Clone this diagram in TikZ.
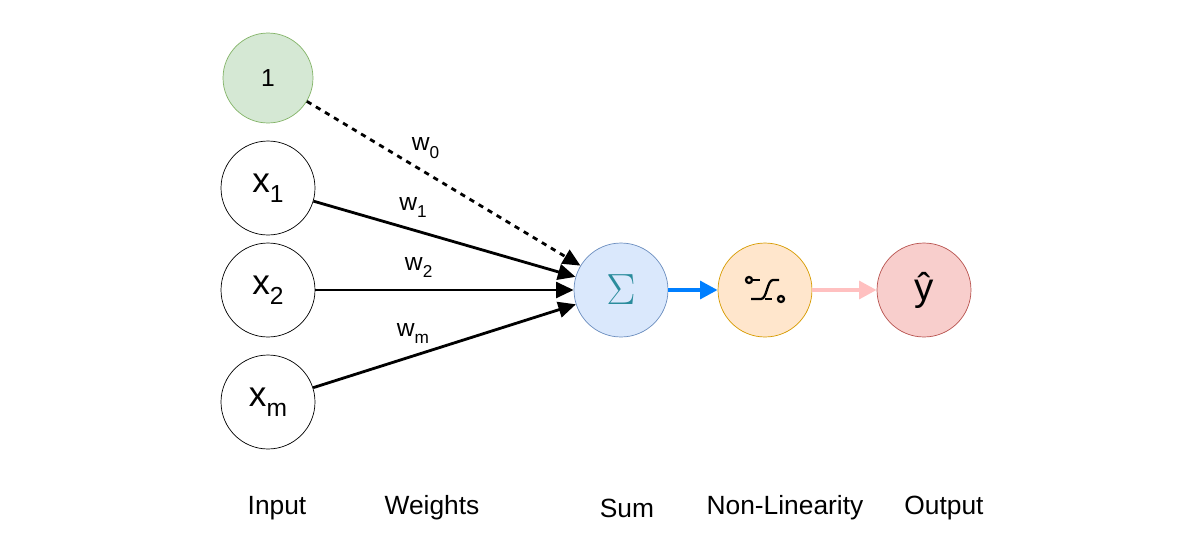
\documentclass[tikz,border=0pt]{standalone}
\usepackage{fontspec}
\setmainfont{Liberation Sans}
\usetikzlibrary{arrows.meta}
\definecolor{gF}{HTML}{D5E8D4}\definecolor{gD}{HTML}{82B366}
\definecolor{bF}{HTML}{DAE8FC}\definecolor{bD}{HTML}{6C8EBF}
\definecolor{oF}{HTML}{FFE6CC}\definecolor{oD}{HTML}{D79B00}
\definecolor{rF}{HTML}{F8CECC}\definecolor{rD}{HTML}{B85450}
\definecolor{teal}{HTML}{2A8C9C}
\newcommand\mysub[1]{\raisebox{-0.3em}{\fontsize{0.7em}{0.7em}\selectfont #1}}
\begin{document}
\begin{tikzpicture}[x=0.02cm,y=-0.02cm,
  neur/.style={circle,draw,minimum size=1.88cm,inner sep=0pt,font=\fontsize{20}{20}\selectfont},
  wt/.style={-{Triangle[length=10pt,width=9pt]},line width=1.6pt},
  lab/.style={font=\fontsize{15}{15}\selectfont},
  wl/.style={font=\fontsize{14}{14}\selectfont}]
\useasboundingbox (0,0) rectangle (1188,538);
\node[neur,fill=gF,draw=gD,minimum size=1.8cm,font=\fontsize{14}{14}\selectfont] (one) at (268,78) {1};
\node[neur] (x1) at (268,188) {x\mysub{1}};
\node[neur] (x2) at (268,290) {x\mysub{2}};
\node[neur] (xm) at (268,402) {x\mysub{m}};
\node[neur,fill=bF,draw=bD] (sum) at (621,290) {\fontsize{34}{34}\selectfont\color{teal}$\Sigma$};
\node[neur,fill=oF,draw=oD] (nl) at (765,290) {};
\node[neur,fill=rF,draw=rD] (out) at (924,290) {\fontsize{22}{22}\selectfont\^{y}};
% nonlinearity icon
\begin{scope}[shift={(nl.center)},line width=1.3pt]
\draw (-16,-10) circle (3);
\draw[dash pattern=on 4pt off 2pt] (-12,-10) -- (-2,-10);
\draw (-14,9) -- (-4,9) .. controls (2,9) and (2,-10) .. (8,-10) -- (14,-10);
\draw[dash pattern=on 4pt off 2pt] (0,9) -- (10,9);
\draw (16,9) circle (3);
\end{scope}
\draw[wt,dashed] (one) -- (sum) node[pos=0.37,above right=-2pt,wl] {w\mysub{0}};
\draw[wt] (x1) -- (sum) node[pos=0.38,above=3pt,wl] {w\mysub{1}};
\draw[wt] (x2) -- (sum) node[pos=0.4,above=3pt,wl] {w\mysub{2}};
\draw[wt] (xm) -- (sum) node[pos=0.38,above=3pt,wl] {w\mysub{m}};
\draw[-{Triangle[length=10pt,width=10pt]},line width=2.4pt,draw={rgb,255:red,0;green,127;blue,255}] (sum) -- (nl);
\draw[-{Triangle[length=10pt,width=10pt]},line width=2.4pt,draw={rgb,255:red,255;green,192;blue,192}] (nl) -- (out);
\node[lab] (l1) at (277,508) {Input};
\node[lab] (l2) at (432,508) {Weights};
\node[lab] (l3) at (627,508) {Sum};
\node[lab] (l4) at (785,508) {Non-Linearity};
\node[lab] (l5) at (944,508) {Output};
\end{tikzpicture}
\end{document}
